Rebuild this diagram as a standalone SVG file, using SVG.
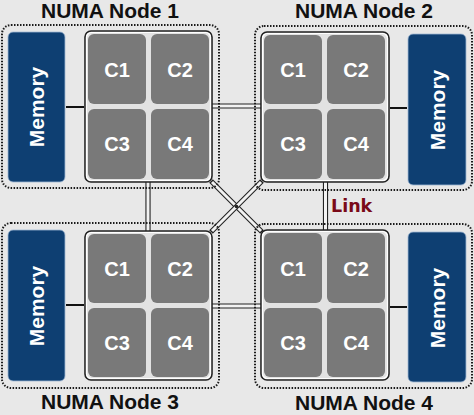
<svg xmlns="http://www.w3.org/2000/svg" width="474" height="415" viewBox="0 0 474 415">
<style>
.bg{fill:#e8e8e8}
.dot{fill:none;stroke:#1a1a1a;stroke-width:2;stroke-dasharray:1.5 1.5}
.mem{fill:#0e3f72;stroke:#9fb7d3;stroke-width:0.8}
.memt{font-family:"Liberation Sans",Arial,sans-serif;font-weight:bold;font-size:21px;fill:#ffffff;text-anchor:middle}
.cont{fill:#e2e2e2;stroke:#222;stroke-width:1.6}
.conti{fill:none;stroke:#ffffff;stroke-width:1.2}
.core{fill:#797979}
.coret{font-family:"Liberation Sans",Arial,sans-serif;font-weight:bold;font-size:20px;fill:#ffffff;text-anchor:middle}
.title{font-family:"Liberation Sans",Arial,sans-serif;font-weight:bold;font-size:21px;fill:#111;text-anchor:middle}
.ml{stroke:#111;stroke-width:2}
.lo{stroke:#222;stroke-width:5.2;fill:none}
.li{stroke:#f2f2f2;stroke-width:3;fill:none}
.lnk{font-family:"DejaVu Sans",Verdana,sans-serif;font-weight:bold;font-size:17.5px;fill:#7a0a18}
</style>
<rect class="bg" x="0" y="0" width="474" height="415"/>

<g id="connectors">
<line class="lo" x1="212" y1="106" x2="261" y2="106"/>
<line class="li" x1="211" y1="106" x2="262" y2="106"/>
<line class="lo" x1="212" y1="306" x2="261" y2="306"/>
<line class="li" x1="211" y1="306" x2="262" y2="306"/>
<line class="lo" x1="148" y1="182" x2="148" y2="231"/>
<line class="li" x1="148" y1="181" x2="148" y2="232"/>
<line class="lo" x1="325.5" y1="182" x2="325.5" y2="230"/>
<line class="li" x1="325.5" y1="181" x2="325.5" y2="231"/>
<line class="lo" x1="211" y1="181" x2="262" y2="232"/>
<line class="li" x1="212" y1="182" x2="261" y2="231"/>
<line class="lo" x1="262" y1="181" x2="211" y2="232"/>
<line class="li" x1="261" y1="182" x2="212" y2="231"/>
<circle cx="236.5" cy="206.5" r="1.8" fill="#222"/>
<text class="lnk" x="331" y="212">Link</text>
</g>

<g id="node1">
<text class="title" x="110" y="17.5">NUMA Node 1</text>
<rect class="dot" x="2" y="25" width="217" height="163" rx="9"/>
<rect class="mem" x="8" y="32" width="57" height="150" rx="5"/>
<text class="memt" transform="translate(43.5,107) rotate(-90)">Memory</text>
<line class="ml" x1="66" y1="107" x2="84" y2="107"/>
<rect class="cont" x="85" y="31" width="127" height="151" rx="6"/>
<rect class="conti" x="86.5" y="32.5" width="124" height="148" rx="5"/>
<rect class="core" x="88" y="34" width="58" height="70" rx="6"/>
<rect class="core" x="151" y="34" width="58" height="70" rx="6"/>
<rect class="core" x="88" y="109" width="58" height="70" rx="6"/>
<rect class="core" x="151" y="109" width="58" height="70" rx="6"/>
<text class="coret" x="117" y="77">C1</text>
<text class="coret" x="180" y="77">C2</text>
<text class="coret" x="117" y="151">C3</text>
<text class="coret" x="180" y="151">C4</text>
</g>

<g id="node2">
<text class="title" x="364" y="17.5">NUMA Node 2</text>
<rect class="dot" x="255" y="26" width="217" height="164" rx="9"/>
<rect class="mem" x="408" y="34" width="58" height="151" rx="5"/>
<text class="memt" transform="translate(444.5,110) rotate(-90)">Memory</text>
<line class="ml" x1="390" y1="108" x2="407" y2="108"/>
<rect class="cont" x="261" y="32" width="128" height="150" rx="6"/>
<rect class="conti" x="262.5" y="33.5" width="125" height="147" rx="5"/>
<rect class="core" x="264" y="35" width="58" height="69" rx="6"/>
<rect class="core" x="327" y="35" width="58" height="69" rx="6"/>
<rect class="core" x="264" y="109" width="58" height="70" rx="6"/>
<rect class="core" x="327" y="109" width="58" height="70" rx="6"/>
<text class="coret" x="293" y="77">C1</text>
<text class="coret" x="356" y="77">C2</text>
<text class="coret" x="293" y="151">C3</text>
<text class="coret" x="356" y="151">C4</text>
</g>

<g id="node3">
<rect class="dot" x="2" y="223" width="217" height="165" rx="9"/>
<rect class="mem" x="8" y="230" width="57" height="151" rx="5"/>
<text class="memt" transform="translate(43.5,306) rotate(-90)">Memory</text>
<line class="ml" x1="66" y1="305" x2="84" y2="305"/>
<rect class="cont" x="85" y="231" width="127" height="149" rx="6"/>
<rect class="conti" x="86.5" y="232.5" width="124" height="146" rx="5"/>
<rect class="core" x="88" y="234" width="58" height="69" rx="6"/>
<rect class="core" x="151" y="234" width="58" height="69" rx="6"/>
<rect class="core" x="88" y="308" width="58" height="69" rx="6"/>
<rect class="core" x="151" y="308" width="58" height="69" rx="6"/>
<text class="coret" x="117" y="276">C1</text>
<text class="coret" x="180" y="276">C2</text>
<text class="coret" x="117" y="350">C3</text>
<text class="coret" x="180" y="350">C4</text>
<text class="title" x="110" y="409">NUMA Node 3</text>
</g>

<g id="node4">
<rect class="dot" x="255" y="224" width="217" height="164" rx="9"/>
<rect class="mem" x="408" y="232" width="58" height="150" rx="5"/>
<text class="memt" transform="translate(444.5,308) rotate(-90)">Memory</text>
<line class="ml" x1="390" y1="307" x2="407" y2="307"/>
<rect class="cont" x="261" y="230" width="128" height="150" rx="6"/>
<rect class="conti" x="262.5" y="231.5" width="125" height="147" rx="5"/>
<rect class="core" x="264" y="233" width="58" height="70" rx="6"/>
<rect class="core" x="327" y="233" width="58" height="70" rx="6"/>
<rect class="core" x="264" y="308" width="58" height="69" rx="6"/>
<rect class="core" x="327" y="308" width="58" height="69" rx="6"/>
<text class="coret" x="293" y="276">C1</text>
<text class="coret" x="356" y="276">C2</text>
<text class="coret" x="293" y="350">C3</text>
<text class="coret" x="356" y="350">C4</text>
<text class="title" x="364" y="410">NUMA Node 4</text>
</g>
</svg>
